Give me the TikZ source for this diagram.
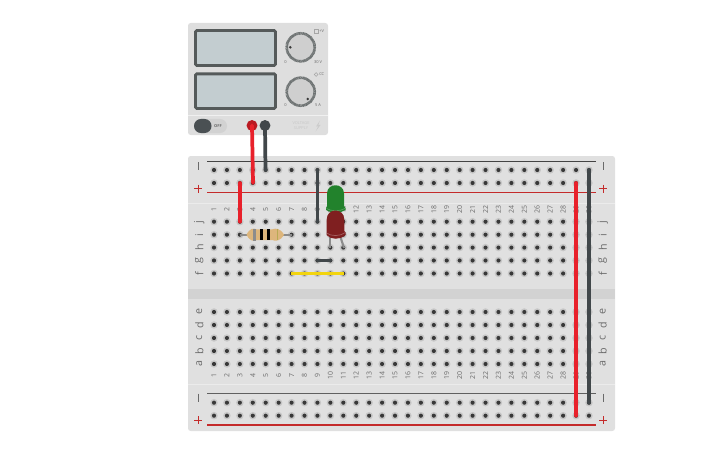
\documentclass[tikz,border=0pt]{standalone}
\usepackage{fontspec}
\setmainfont{Open Sans}
\definecolor{boardc}{HTML}{E0E0E0}
\definecolor{bandc}{HTML}{D2D2D2}
\definecolor{haloc}{HTML}{C6C6C6}
\definecolor{holec}{HTML}{383838}
\definecolor{txtc}{HTML}{6A6A6A}
\definecolor{railr}{HTML}{C42B2B}
\definecolor{raild}{HTML}{444444}
\definecolor{wirer}{HTML}{E8212B}
\definecolor{wired}{HTML}{41474A}
\definecolor{psuc}{HTML}{DEDEDE}
\definecolor{scrc}{HTML}{C3CDD0}
\definecolor{scrb}{HTML}{555A5A}
\definecolor{knobc}{HTML}{CFCFCF}
\definecolor{tanc}{HTML}{DDB67C}
\definecolor{yelc}{HTML}{F2D40F}
\definecolor{ledg}{HTML}{22822C}
\definecolor{ledr}{HTML}{7F1F20}
\tikzset{
  wire/.style={line width=2.8pt,line cap=round},
  hole/.style={circle,inner sep=0pt,minimum size=3.1pt,fill=holec},
  halo/.style={circle,inner sep=0pt,minimum size=5.6pt,fill=haloc},
  numlab/.style={font=\fontsize{5.2pt}{6pt}\selectfont,text=txtc,rotate=90,inner sep=0pt},
  letlab/.style={font=\fontsize{8pt}{9pt}\selectfont,text=txtc,rotate=90,inner sep=0pt},
  screen/.style={draw=scrb,fill=scrc,line width=2.2pt,rounded corners=1pt},
  knob/.style={circle,draw=scrb!85!white,fill=knobc,line width=2pt,dash pattern=on 0.7pt off 0.3pt,minimum size=21pt,inner sep=0pt},
  tiny/.style={font=\fontsize{3pt}{3.4pt}\selectfont,text=txtc,inner sep=0pt,align=center},
}
\begin{document}
\begin{tikzpicture}[x=0.75pt,y=-0.75pt]
\useasboundingbox (0,0) rectangle (725,453);
% power supply
\fill[psuc,rounded corners=2pt] (188,23) rectangle (328,135);
\draw[black!6,line width=0.6pt] (188,115) -- (328,115);
\draw[screen] (195.5,30.5) rectangle (275.5,65.5);
\draw[screen] (195.5,73.8) rectangle (275.5,108.5);
\node[knob] (kv) at (300.7,47.3) {};
\node[knob] (ka) at (300.7,91.7) {};
\fill[holec] (290.3,47.3) circle (1.4);
\fill[holec] (307.7,99) circle (1.4);
\node[tiny] (t0a) at (285.5,62) {0};
\node[tiny] (t30) at (318,62) {30 V};
\node[tiny] (t0b) at (285.5,105) {0};
\node[tiny] (t5) at (318,105) {5 A};
\node[tiny,anchor=west] (tv) at (319,31) {+V};
\node[tiny,anchor=west] (tc) at (319,74.5) {CC};
\draw[black!35,line width=0.4pt] (314.5,29) rectangle (318,32.8);
\draw[black!35,line width=0.4pt] (316.2,74.5) circle (1.9);
\fill[bandc,rounded corners=5.2pt] (194,119) rectangle (227,133);
\fill[wired!95!white,rounded corners=5.2pt] (194,119) rectangle (211.5,133);
\node[tiny] (off) at (218,125.8) {\textbf{OFF}};
\node[tiny,text=black!22] (vs) at (301,125.5) {VOLTAGE\\SUPPLY};
\fill[black!20] (320,120.5) -- (316,126.5) -- (318,126.5) -- (315.5,131.5) -- (320.5,125) -- (318.3,125) -- cycle;
% breadboard
\fill[boardc,rounded corners=2pt] (188,156) rectangle (615,431);
\fill[bandc] (188,289) rectangle (615,299);
\draw[black!8,line width=0.5pt] (188,203.5) -- (615,203.5) (188,384) -- (615,384);
% rails
\draw[raild,line width=0.8pt] (207,161.5) -- (596,161.5);
\draw[railr,line width=0.8pt] (207,192.5) -- (596,192.5);
\draw[raild!85!white,line width=0.8pt] (207,393.7) -- (596,393.7);
\draw[railr,line width=0.8pt] (207,425) -- (596,425);
\foreach \xx in {198,603}{
  \draw[txtc,line width=0.6pt] (\xx,162) -- (\xx,170);
  \draw[txtc,line width=0.6pt] (\xx,393.5) -- (\xx,401.5);
  \draw[railr,line width=0.65pt] (\xx-4,188.7) -- (\xx+4,188.7) (\xx,184.7) -- (\xx,192.7);
  \draw[railr,line width=0.65pt] (\xx-4,420) -- (\xx+4,420) (\xx,416) -- (\xx,424);
}
% holes
\foreach \c in {1,...,30}{
  \pgfmathsetmacro{\xc}{214+(\c-1)*12.93}
  \foreach \yy in {170,183,221.7,234.7,247.6,260.5,273.5,312,325,338,351,364,402.7,415.7}{
    \node[halo] at (\xc,\yy) {};
    \node[hole] at (\xc,\yy) {};
  }
  \node[numlab] at (\xc,210) {\c};
  \node[numlab] at (\xc,375.7) {\c};
}
\foreach \l/\yy in {j/221.7,i/234.7,h/247.6,g/260.5,f/273.5,e/312,d/325,c/338,b/351,a/364}{
  \node[letlab] at (199.3,\yy) {\l};
  \node[letlab] at (602.7,\yy) {\l};
}
% terminals
\node[circle,fill=wirer!80!black,minimum size=8.2pt,inner sep=0pt] (tr) at (252,125.5) {};
\node[circle,fill=wired,minimum size=8.2pt,inner sep=0pt] (td) at (265,125.5) {};
% wire end points
\coordinate (a1) at (253,183);
\coordinate (a2) at (265.5,170);
\coordinate (r3a) at (240,183);
\coordinate (r3b) at (240,221.7);
\coordinate (d9a) at (317.5,170);
\coordinate (d9b) at (317.5,221.7);
\coordinate (r29a) at (576,183);
\coordinate (r29b) at (576,415.7);
\coordinate (d30a) at (589,170);
\coordinate (d30b) at (589,402.7);
\coordinate (sa) at (317.5,260.5);
\coordinate (sb) at (330.5,260.5);
\coordinate (ya) at (291,273.5);
\coordinate (yb) at (344,273.5);
\coordinate (ra) at (240,234.7);
\coordinate (rb) at (291.5,234.7);
% resistor
\draw[black!45,line width=1.3pt] (ra) -- (rb);
\fill[tanc] (246.5,234.7) .. controls (250,228) and (253,228) .. (257,229.4) -- (272,229.4)
  .. controls (276,228) and (280,228) .. (284,234.7)
  .. controls (280,241.4) and (276,241.4) .. (272,240) -- (257,240)
  .. controls (253,241.4) and (250,241.4) .. (246.5,234.7) -- cycle;
\fill[black!45] (253.3,228.8) rectangle (256,240.6);
\fill[black] (259.5,229.4) rectangle (262.5,240);
\fill[black] (266.5,229.4) rectangle (269.5,240);
\fill[yellow!60!black!70!tanc] (276.6,229.2) rectangle (277.6,240.2);
% wires
\draw[wire,wirer] (tr.center) -- (a1);
\draw[wire,wired] (td.center) -- (a2);
\draw[wire,wirer] (r3a) -- (r3b);
\draw[wire,wired] (d9a) -- (d9b);
\draw[wire,wirer] (r29a) -- (r29b);
\draw[wire,wired] (d30a) -- (d30b);
\draw[wire,wired] (sa) -- (sb);
\draw[wire,yelc,line cap=butt,line width=2.2pt] (ya) -- (yb);
% LEDs
\draw[black!45,line width=1.6pt] (330.3,237) -- (330.3,248);
\draw[black!45,line width=1.6pt] (340.5,237) -- (344,248);
\fill[ledg] (327,206) -- (327,193.5) .. controls (327,182.5) and (344,182.5) .. (344,193.5) -- (344,206) -- (345.5,208) -- (345.5,210) .. controls (340,213.5) and (331,213.5) .. (326,210) -- (326,208) -- cycle;
\draw[ledg!75!white,line width=0.5pt] (326.5,208.5) .. controls (331,211.5) and (340,211.5) .. (345,208.5);
\fill[ledr] (326.7,233) -- (326.7,219.5) .. controls (326.7,207.5) and (344.3,207.5) .. (344.3,219.5) -- (344.3,231) -- (345.5,232.5) -- (345.5,235) .. controls (340,240) and (331,240) .. (326.5,235) -- cycle;
\draw[ledr!70!white,line width=0.5pt] (326.7,233) .. controls (331,236.5) and (340,236.5) .. (345.3,232.5);
\end{tikzpicture}
\end{document}
